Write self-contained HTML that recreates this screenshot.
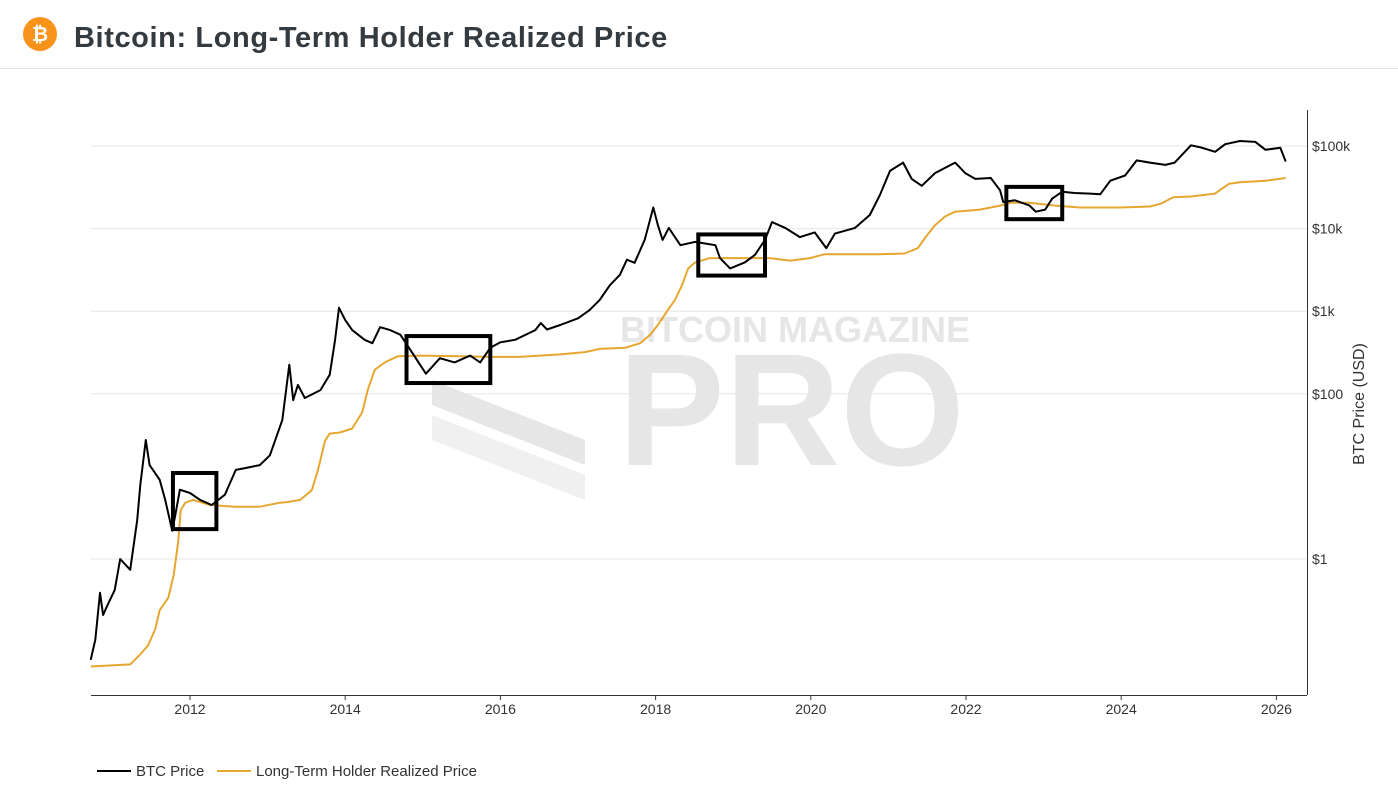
<!DOCTYPE html>
<html><head><meta charset="utf-8"><style>
body{margin:0;background:#fff;font-family:"Liberation Sans",sans-serif;}
#wrap{position:relative;width:1398px;height:786px;overflow:hidden;}
</style></head><body>
<div id="wrap">
<svg id="chart" width="1398" height="786">
  <g>
    <circle cx="40" cy="34" r="17" fill="#f7931a"/>
    <text x="40" y="41" text-anchor="middle" font-size="20" font-weight="bold" fill="#fff">₿</text>
    <text x="74" y="47" font-size="29" font-weight="bold" fill="#333a40" letter-spacing="0.6">Bitcoin: Long-Term Holder Realized Price</text>
    <line x1="0" y1="68.5" x2="1398" y2="68.5" stroke="#e5e5e5"/>
  </g>
  <g fill="#e6e6e6" font-weight="bold">
    <text x="620" y="342" font-size="36">BITCOIN MAGAZINE</text>
    <text x="618" y="465" font-size="160">PRO</text>
    <polygon points="432,380 585,440 585,465 432,405"/>
    <polygon points="432,415 585,475 585,500 432,440" opacity="0.6"/>
  </g>
  <g id="grid"></g>
  <g id="axes"></g>
  <g id="series"></g>
  <g id="boxes"></g>
  <g>
    <g>
      <line x1="97" y1="771" x2="131" y2="771" stroke="#000" stroke-width="2"/>
      <text x="136" y="776" font-size="15" fill="#333">BTC Price</text>
    </g>
    <g>
      <line x1="217" y1="771" x2="251" y2="771" stroke="#e5a730" stroke-width="2"/>
      <text x="256" y="776" font-size="15" fill="#333">Long-Term Holder Realized Price</text>
    </g>
  </g>
</svg>
</div>
<script>
const btcDates=[2010.72,2010.78,2010.84,2010.88,2010.94,2011.03,2011.10,2011.23,2011.32,2011.36,2011.43,2011.48,2011.61,2011.68,2011.77,2011.81,2011.87,2012.0,2012.13,2012.28,2012.45,2012.59,2012.71,2012.90,2013.03,2013.19,2013.28,2013.33,2013.39,2013.48,2013.68,2013.80,2013.87,2013.92,2014.0,2014.09,2014.25,2014.35,2014.45,2014.58,2014.71,2014.84,2015.04,2015.22,2015.41,2015.61,2015.74,2015.87,2016.0,2016.19,2016.45,2016.52,2016.6,2016.77,2017.0,2017.15,2017.28,2017.41,2017.54,2017.63,2017.73,2017.86,2017.97,2018.03,2018.09,2018.17,2018.32,2018.51,2018.77,2018.83,2018.96,2019.15,2019.28,2019.41,2019.50,2019.67,2019.86,2020.05,2020.20,2020.31,2020.57,2020.76,2020.89,2021.02,2021.19,2021.30,2021.43,2021.60,2021.86,2021.99,2022.12,2022.32,2022.44,2022.48,2022.63,2022.82,2022.90,2023.02,2023.11,2023.24,2023.40,2023.60,2023.73,2023.86,2024.05,2024.20,2024.37,2024.57,2024.69,2024.90,2025.03,2025.21,2025.34,2025.53,2025.73,2025.86,2026.05,2026.12];
const btcPrices=[0.06,0.105,0.39,0.21,0.28,0.42,1.0,0.74,2.96,7.9,27.6,13.7,9.1,5.2,2.2,3.4,6.9,6.3,5.2,4.5,6.0,12,12.6,13.7,18,48,225,84,128,89,111,170,450,1100,780,590,450,410,640,590,520,340,175,270,240,290,240,360,420,450,590,720,600,680,820,1030,1370,2060,2760,4200,3850,7300,18000,11000,7300,10200,6300,6900,6300,4400,3300,3900,4800,7300,12000,10200,7900,9000,5800,8700,10200,14600,25500,50000,63000,40000,33000,47000,63000,47000,40000,41000,29000,21000,22000,19000,16000,17000,23000,28000,27000,26500,26000,38000,44000,67000,63000,59000,63000,102000,96000,85000,105000,115000,112000,90000,95000,65000];
const lthDates=[2010.72,2011.23,2011.36,2011.46,2011.55,2011.61,2011.72,2011.79,2011.85,2011.88,2011.94,2012.04,2012.26,2012.58,2012.90,2013.16,2013.26,2013.42,2013.57,2013.65,2013.74,2013.80,2013.93,2014.09,2014.22,2014.29,2014.38,2014.51,2014.68,2014.96,2015.48,2015.87,2016.25,2016.77,2017.09,2017.28,2017.61,2017.80,2017.93,2018.03,2018.16,2018.25,2018.34,2018.42,2018.51,2018.70,2019.09,2019.47,2019.73,2019.99,2020.18,2020.51,2020.89,2021.21,2021.38,2021.47,2021.60,2021.73,2021.86,2022.18,2022.44,2022.57,2022.82,2023.15,2023.47,2023.98,2024.37,2024.51,2024.67,2024.90,2025.21,2025.39,2025.53,2025.86,2026.12];
const lthPrices=[0.05,0.053,0.07,0.09,0.14,0.24,0.34,0.64,1.7,3.9,4.8,5.2,4.5,4.3,4.3,4.8,4.9,5.2,6.8,12,27,33,34,38,60,111,195,240,285,290,285,280,280,300,320,350,360,410,520,680,1040,1370,2060,3300,3900,4400,4400,4400,4100,4400,4900,4900,4900,5000,5800,7700,11000,14000,16000,17000,19000,20500,20500,19000,18000,18000,18500,20000,24000,24500,26500,35000,36500,38000,41000];
const yTickValues=[1,100,1000,10000,100000];
const yTickLabels=["$1","$100","$1k","$10k","$100k"];
const xTickYears=[2012,2014,2016,2018,2020,2022,2024,2026];
const boxStart=[2011.78,2014.79,2018.55,2022.52];
const boxEnd=[2012.34,2015.87,2019.41,2023.24];
const boxHigh=[11,500,8500,32000];
const boxLow=[2.3,135,2700,13000];

const NS="http://www.w3.org/2000/svg";
const L=91,R=1307,T=110,B=695;
function xs(y){return 190+(y-2012)*77.6;}
function ys(v){return 559-82.6*Math.log10(v);}
function mk(tag,attrs,parent){const e=document.createElementNS(NS,tag);for(const k in attrs)e.setAttribute(k,attrs[k]);parent.appendChild(e);return e;}
const grid=document.getElementById('grid'),axes=document.getElementById('axes'),series=document.getElementById('series'),boxes=document.getElementById('boxes');
yTickValues.forEach((v,i)=>{
  const l=mk('line',{x1:L,x2:R,y1:ys(v),y2:ys(v),stroke:'#e6e6e6','stroke-width':1},grid);
  
  
  const t=mk('text',{x:1312,y:ys(v)+5,'font-size':14,fill:'#333'},axes);
  t.textContent=yTickLabels[i];
  
  
});
const xa=mk('line',{x1:L,x2:R,y1:B+0.5,y2:B+0.5,stroke:'#333','stroke-width':1},axes);


const ya=mk('line',{x1:R+0.5,x2:R+0.5,y1:T,y2:B,stroke:'#333','stroke-width':1},axes);


xTickYears.forEach(yr=>{
  const tk=mk('line',{x1:xs(yr),x2:xs(yr),y1:B,y2:B+5,stroke:'#333'},axes);
  
  
  const t=mk('text',{x:xs(yr),y:B+19,'font-size':14,fill:'#333','text-anchor':'middle'},axes);
  t.textContent=yr;
  
  
});
const yt=mk('text',{x:0,y:0,'font-size':16,fill:'#333','text-anchor':'middle',transform:'translate(1364,404) rotate(-90)'},axes);
yt.textContent='BTC Price (USD)';


function path(d,p,color,name){
  const pts=d.map((x,i)=>xs(x).toFixed(1)+','+ys(p[i]).toFixed(1)).join(' ');
  const pl=mk('polyline',{points:pts,fill:'none',stroke:color,'stroke-width':2,'stroke-linejoin':'round'},series);
  
  
}
path(lthDates,lthPrices,'#e5a730','lth-realized-price-line');
path(btcDates,btcPrices,'#000','btc-price-line');
boxStart.forEach((s,i)=>{
  const r=mk('rect',{x:xs(s),y:ys(boxHigh[i]),width:xs(boxEnd[i])-xs(s),height:ys(boxLow[i])-ys(boxHigh[i]),fill:'none',stroke:'#000','stroke-width':4},boxes);
  
  
});
</script>
</body></html>
